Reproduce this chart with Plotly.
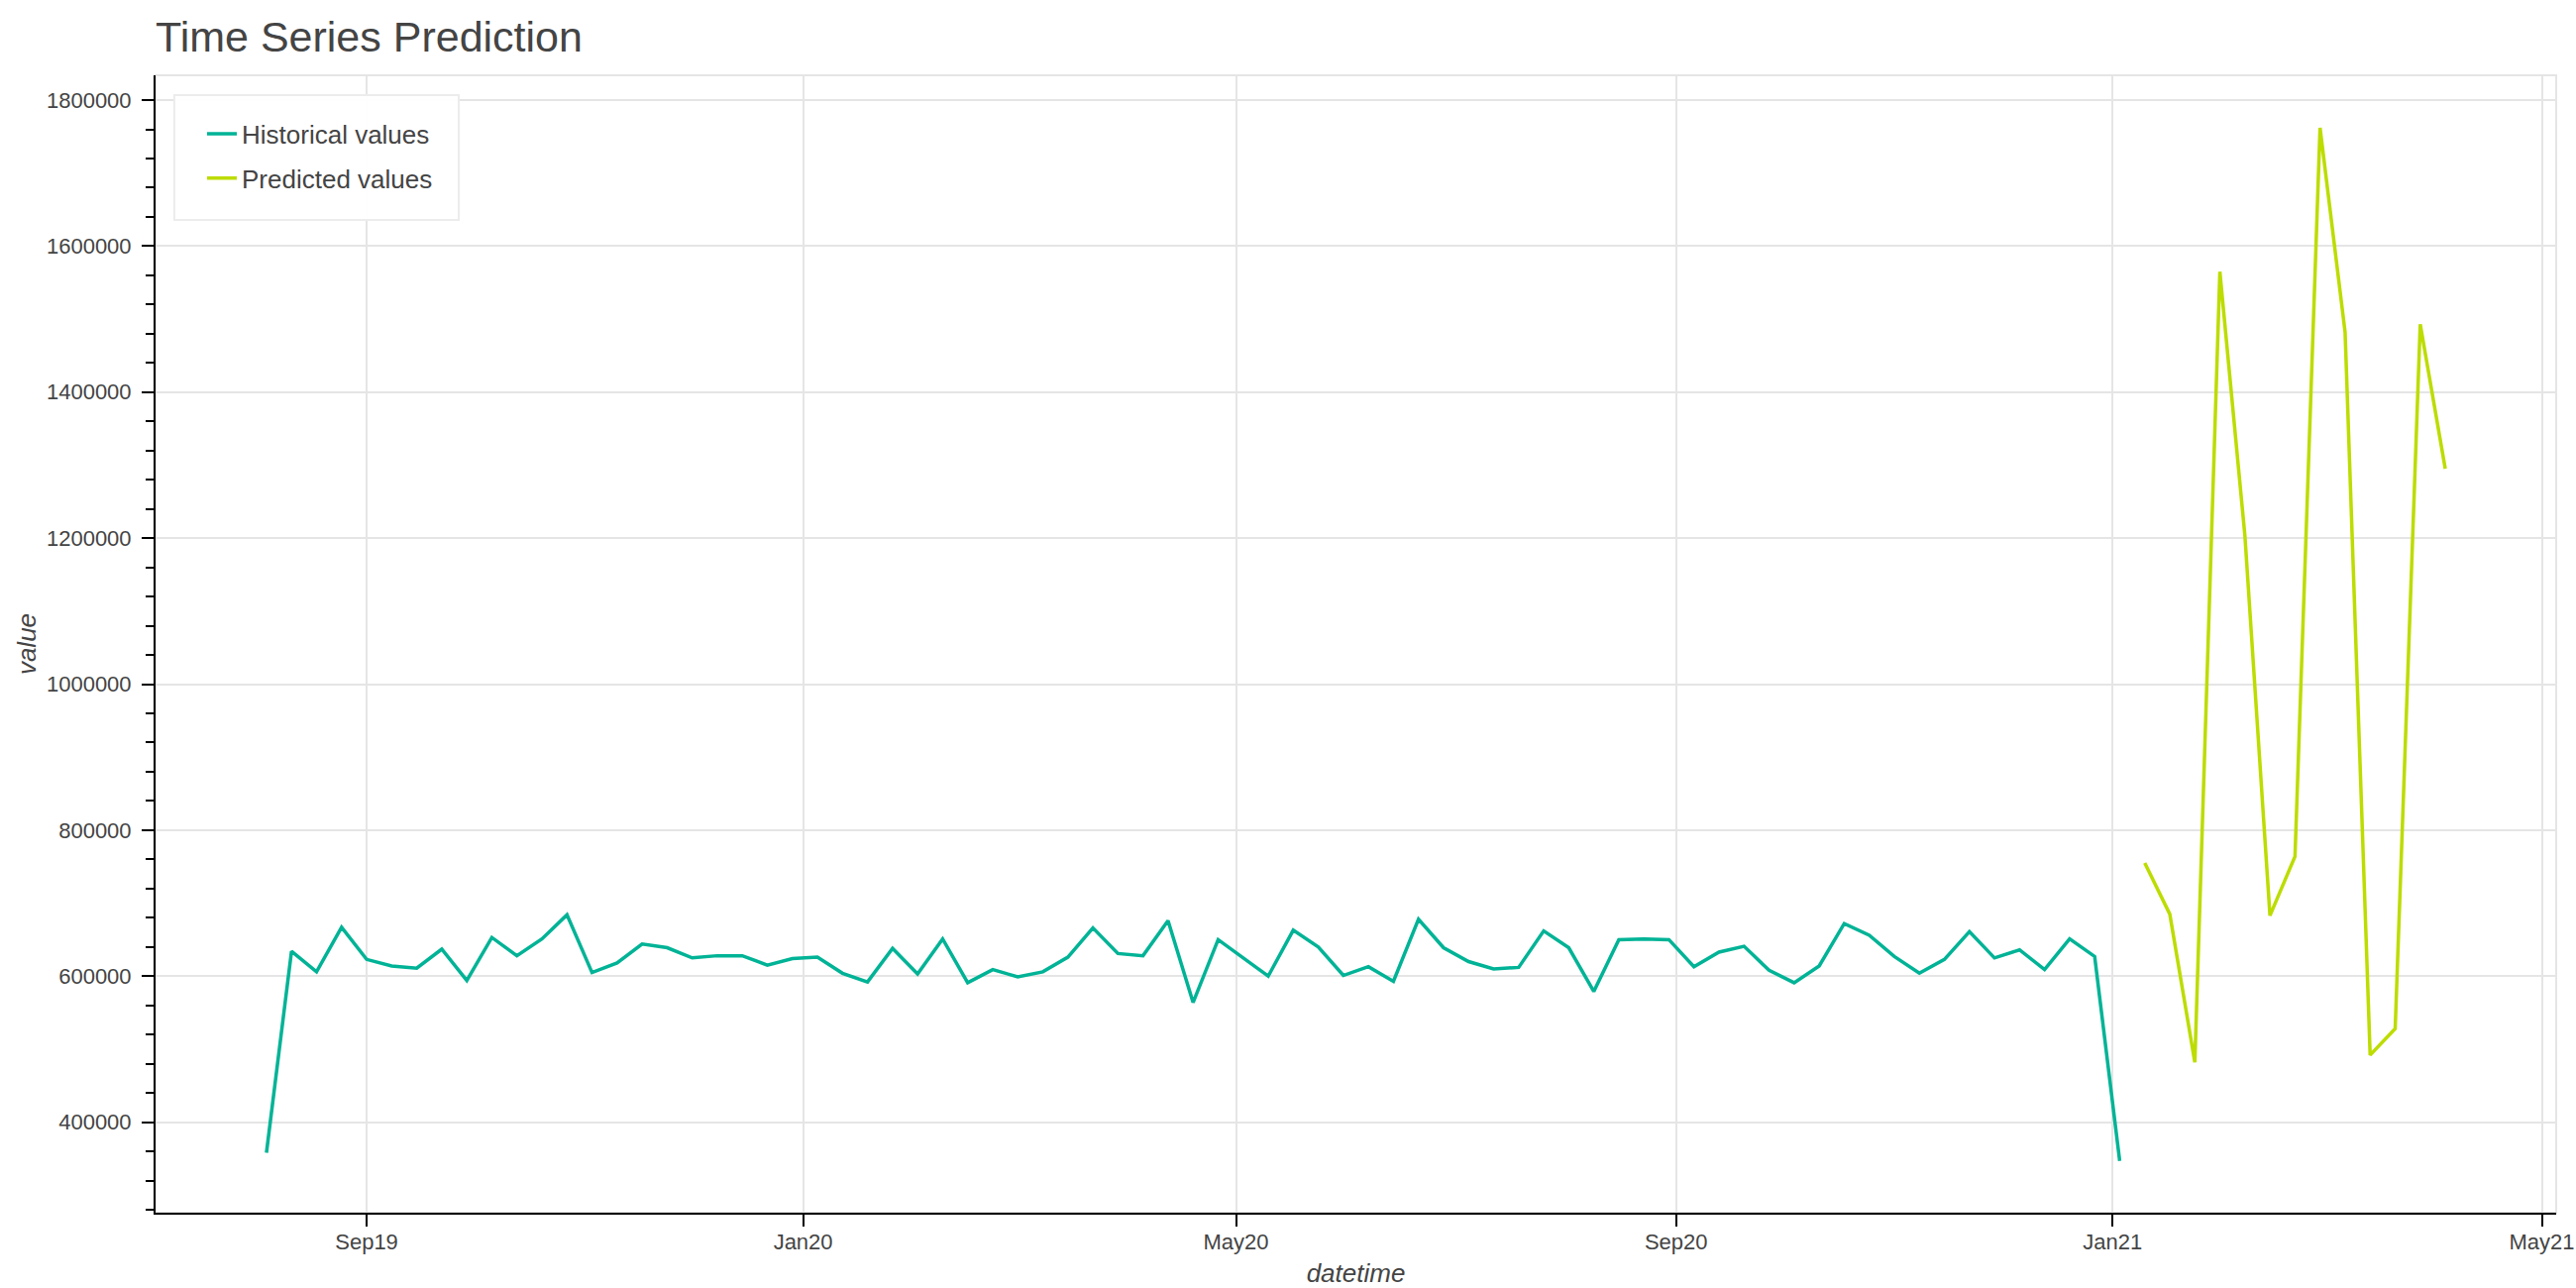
import pandas as pd
import plotly.graph_objects as go

# weekly history (Sundays) and 13-week forecast
hist_start = "2019-08-04"
hist_values = [
    358000, 634000, 606000, 667000, 623000, 614000, 611000, 637000, 594000, 653000,
    628000, 651000, 684000, 605000, 618000, 644000, 639000, 625000, 628000, 628000,
    615000, 624000, 626000, 604000, 592000, 638000, 603000, 651000, 591000, 609000,
    599000, 606000, 626000, 666000, 631000, 628000, 676000, 564000, 650000, 625000,
    600000, 663000, 640000, 601000, 613000, 593000, 678000, 639000, 620000, 610000,
    612000, 662000, 639000, 579000, 650000, 651000, 650000, 613000, 633000, 641000,
    608000, 591000, 614000, 672000, 656000, 627000, 604000, 623000, 661000, 625000,
    636000, 609000, 651000, 627000, 347000,
]
pred_start = "2021-01-10"
pred_values = [
    755000, 685000, 482000, 1565000, 1203000, 683000, 764000, 1762000, 1482000,
    492000, 528000, 1493000, 1295000,
]
tick_dates = ["2019-09-01", "2020-01-01", "2020-05-01", "2020-09-01", "2021-01-01", "2021-05-01"]
tick_labels = ["Sep19", "Jan20", "May20", "Sep20", "Jan21", "May21"]

hist_dates = pd.date_range(hist_start, periods=len(hist_values), freq="7D")
pred_dates = pd.date_range(pred_start, periods=len(pred_values), freq="7D")

font = "Liberation Sans, Arial, sans-serif"

fig = go.Figure()
fig.add_trace(go.Scatter(x=hist_dates, y=hist_values, mode="lines", name="Historical values",
                         line=dict(color="#00b396", width=3.5), legendgroup="h"))
fig.add_trace(go.Scatter(x=pred_dates, y=pred_values, mode="lines", name="Predicted values",
                         line=dict(color="#bddc00", width=3.5), legendgroup="p"))

# light frame around the plot area
fig.add_shape(type="rect", xref="paper", yref="paper", x0=0, x1=1, y0=0, y1=1,
              line=dict(color="#e5e5e5", width=2), layer="below")
# legend box (bokeh style, with padding)
fig.add_shape(type="rect", xref="paper", yref="paper", x0=0.0078, x1=0.1263, y0=0.8729, y1=0.9826,
              line=dict(color="#ececec", width=2), fillcolor="rgba(255,255,255,0.95)", layer="above")

fig.update_layout(
    width=2600, height=1300,
    margin=dict(l=157, r=20, t=76, b=76, autoexpand=False),
    plot_bgcolor="white", paper_bgcolor="white",
    font=dict(family=font, color="#444444"),
    title=dict(text="Time Series Prediction", x=0, xref="paper", xanchor="left",
               y=1 - 37 / 1300, yref="container", yanchor="middle",
               font=dict(size=43, color="#444444")),
    legend=dict(x=0.0194, y=0.969, xanchor="left", yanchor="top",
                bgcolor="rgba(0,0,0,0)", borderwidth=0,
                font=dict(size=26, color="#444444"), tracegroupgap=8),
    showlegend=True,
)
fig.update_xaxes(
    range=["2019-07-04", "2021-05-05"],
    tickvals=pd.to_datetime(tick_dates), ticktext=tick_labels,
    tickfont=dict(size=22, color="#444444"),
    ticks="outside", ticklen=12, tickwidth=2, tickcolor="black",
    showline=True, linecolor="black", linewidth=2,
    showgrid=True, gridcolor="#e5e5e5", gridwidth=2, zeroline=False,
    ticklabelstandoff=-3,
    title=dict(text="datetime", standoff=31, font=dict(size=26, style="italic", color="#444444")),
)
fig.update_yaxes(
    range=[276000, 1834000],
    dtick=200000, tickformat="d",
    tickfont=dict(size=22, color="#444444"),
    ticks="outside", ticklen=12, tickwidth=2, tickcolor="black",
    minor=dict(dtick=40000, ticks="outside", ticklen=8, tickwidth=2, tickcolor="black", showgrid=False),
    showline=True, linecolor="black", linewidth=2,
    showgrid=True, gridcolor="#e5e5e5", gridwidth=2, zeroline=False,
    ticklabelstandoff=6,
    title=dict(text="value", standoff=3, font=dict(size=26, style="italic", color="#444444")),
)

# drop the default body margin so the 2600x1300 figure fits the window exactly
fig.write_html("out.html", config={"displayModeBar": False},
               post_script="document.body.style.margin='0';document.body.style.overflow='hidden';")
